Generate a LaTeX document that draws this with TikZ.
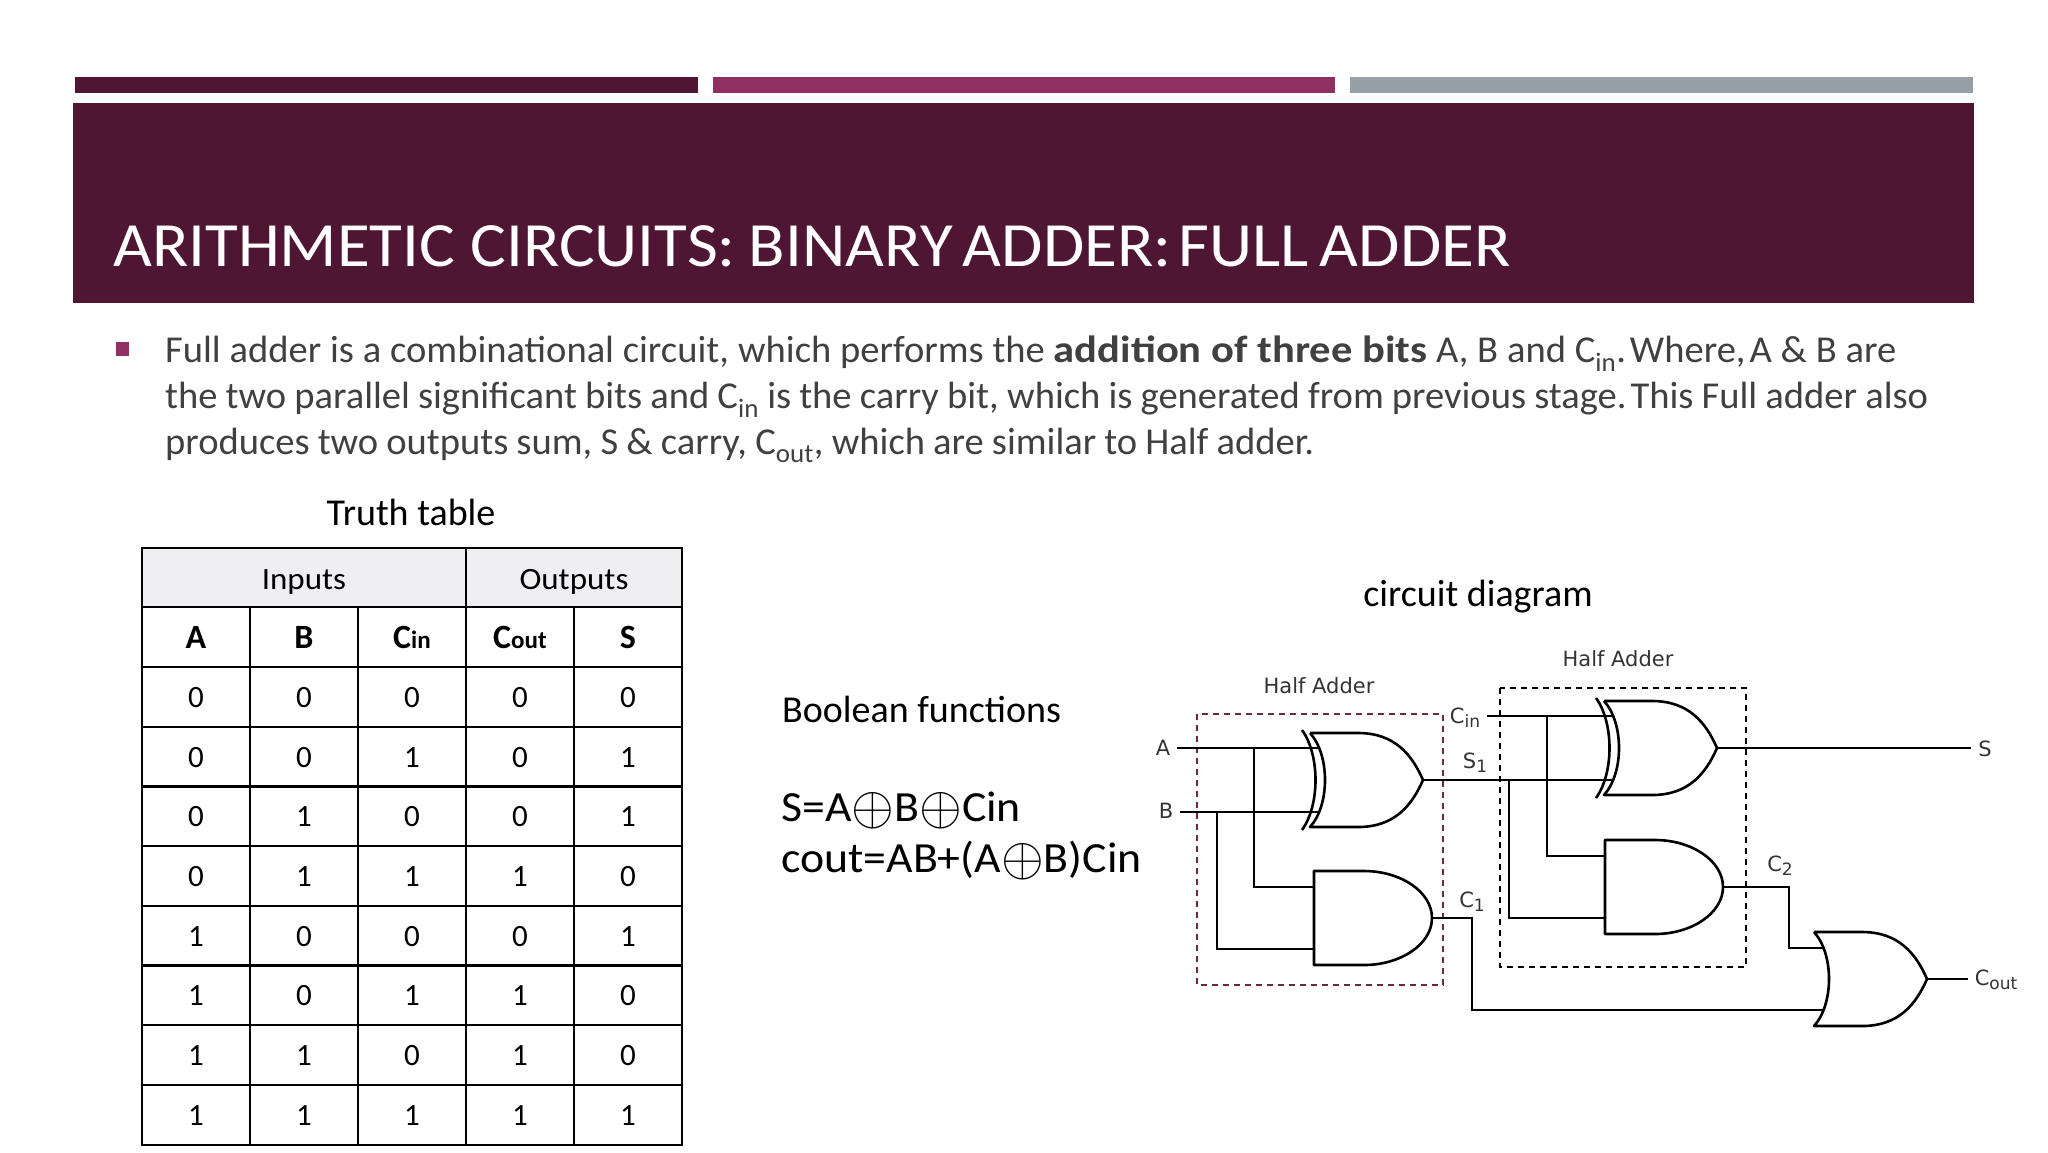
\documentclass[tikz,border=0pt]{standalone}
\usepackage{fontspec}
\setmainfont{Carlito}
\newfontfamily\dejavu{DejaVu Sans}
\newfontfamily\wide[FakeStretch=1.065]{Carlito}
\newfontfamily\slidetxt[FakeStretch=1.015,WordSpace=0.8,BoldFeatures={FakeStretch=1.12}]{Carlito}
\newcommand{\xorsign}{\raisebox{-3pt}{\scalebox{5.5}{\normalsize$\oplus$}}}
\newcommand{\lowpart}[1]{\raisebox{-4pt}{\fontsize{17}{20}\selectfont #1}}
\definecolor{wine}{HTML}{4F1633}
\definecolor{plum}{HTML}{8E3062}
\definecolor{slate}{HTML}{95A0A9}
\definecolor{bodygrey}{HTML}{404040}
\definecolor{headfill}{HTML}{EFEFF2}
\definecolor{boxred}{HTML}{6B2A3C}
\begin{document}
\begin{tikzpicture}[x=1pt,y=-1pt] % all coordinates are pixels of the slide
\tikzset{txt/.style={inner sep=0pt,anchor=base west}} % text sits on its baseline
\tikzset{bodytxt/.style={txt,text=bodygrey,font=\slidetxt\fontsize{38}{46}\selectfont}}
\tikzset{blacktxt/.style={txt,text=black,font=\fontsize{38}{46}\selectfont}}
\tikzset{eqtxt/.style={txt,text=black,font=\wide\fontsize{43}{50}\selectfont}}
\tikzset{cell/.style={draw=black,line width=2.2pt,inner sep=0pt,minimum width=108pt,minimum height=59.7pt,text height=21pt,text depth=0pt,font=\fontsize{31}{36}\selectfont}}
\tikzset{titlecell/.style={cell,fill=headfill,text height=23pt,font=\wide\fontsize{31}{36}\selectfont}}
\tikzset{headcell/.style={cell,text height=23pt,font=\fontsize{34}{36}\selectfont\bfseries}}
\tikzset{sig/.style={inner sep=7pt,text=black!80,font=\dejavu\fontsize{21}{24}\selectfont}}
\tikzset{wire/.style={line width=2.6pt}}
\tikzset{dashbox/.style={line width=2.2pt,dash pattern=on 6pt off 5pt}}
\tikzset{orbody/.pic={ % back curve, top, tip and bottom of an or gate
  \draw[wire,line join=round] (0,-47) -- (48,-47) .. controls (85,-47) and (102,-25) .. (113,0) .. controls (102,25) and (85,47) .. (48,47) -- (0,47) .. controls (20,25) and (20,-25) .. (0,-47);
  \coordinate (-in1) at (9,-31);
  \coordinate (-in2) at (9,31);
  \coordinate (-out) at (113,0);
}}
\tikzset{xorbody/.pic={
  \draw[wire,line join=round] (0,-47) -- (48,-47) .. controls (85,-47) and (102,-25) .. (113,0) .. controls (102,25) and (85,47) .. (48,47) -- (0,47) .. controls (20,25) and (20,-25) .. (0,-47);
  \draw[wire] (-8,-50) .. controls (10,-25) and (10,25) .. (-8,50);
  \coordinate (-in1) at (9,-32);
  \coordinate (-in2) at (9,32);
  \coordinate (-out) at (113,0);
}}
\tikzset{andbody/.pic={
  \draw[wire,line join=round] (0,-47) -- (50,-47) .. controls (87,-47) and (118,-26) .. (118,0) .. controls (118,26) and (87,47) .. (50,47) -- (0,47) -- cycle;
  \coordinate (-in1) at (0,-31);
  \coordinate (-in2) at (0,31);
  \coordinate (-out) at (118,0);
}}
\useasboundingbox (0,0) rectangle (2048,1152);
% slide head
\fill[wine] (75,76.5) rectangle (698,92.5);
\fill[plum] (713,76.5) rectangle (1335,92.5);
\fill[slate] (1350,76.5) rectangle (1973,92.5);
\fill[wine] (73,103) rectangle (1974,303);
\node[txt,text=white,font=\wide\fontsize{63}{70}\selectfont] (title) at (113,266) {ARITHMETIC CIRCUITS:\kern-2pt{} BINARY\kern-5pt{} ADDER:\kern-8pt{} FULL\kern-4pt{} ADDER};
% paragraph
\fill[plum] (116,342) rectangle (129,356);
\node[bodytxt] (line1) at (165,362) {\hbox to 1731pt{Full adder is a combinational circuit, which performs the \textbf{addition of three bits} A, B and C\textsubscript{in}.\kern4pt Where,\kern4pt A \& B are}};
\node[bodytxt] (line2) at (165,408) {\hbox to 1763pt{the two parallel significant bits and C\textsubscript{in} is the carry bit, which is generated from previous stage.\kern4pt This Full adder also}};
\node[bodytxt] (line3) at (165,454) {\hbox to 1149pt{produces two outputs sum, S \& carry, C\textsubscript{out}, which are similar to Half adder.}};
% truth table
\node[blacktxt,anchor=base] (tabletitle) at (411,525) {Truth table};
\node[titlecell,minimum width=324pt] (inputs) at (304,577.5) {Inputs};
\node[titlecell,minimum width=216pt] (outputs) at (574,577.5) {Outputs};
\node[headcell] (hA) at (196,637) {A};
\node[headcell] (hB) at (304,637) {B};
\node[headcell] (hCin) at (412,637) {C{\fontsize{25}{30}\selectfont in}};
\node[headcell] (hCout) at (520,637) {C{\fontsize{25}{30}\selectfont out}};
\node[headcell] (hS) at (628,637) {S};
\foreach \bits [count=\r] in {{0,0,0,0,0},{0,0,1,0,1},{0,1,0,0,1},{0,1,1,1,0},{1,0,0,0,1},{1,0,1,1,0},{1,1,0,1,0},{1,1,1,1,1}}
  \foreach \v [count=\c] in \bits
    \node[cell] (c\r-\c) at ({142+108*\c-54},{667+59.7*\r-29.85}) {\v};
% boolean functions
\node[blacktxt] (booltitle) at (782,722) {Boolean functions};
\node[eqtxt] (sumeq) at (781,821) {S=A\xorsign B\xorsign Cin};
\node[eqtxt] (carryeq) at (781,872) {cout=AB+(A\xorsign B)Cin};
\node[blacktxt,anchor=base] (circuittitle) at (1478,606) {circuit diagram};
% half adder boxes
\draw[dashbox,boxred] (1197,714) rectangle (1443,985);
\draw[dashbox] (1500,688) rectangle (1746,967);
\node[sig] (ha1) at (1319,686) {Half Adder};
\node[sig] (ha2) at (1618,659) {Half Adder};
% gates
\pic (xor1) at (1310,780) {xorbody};
\pic (and1) at (1314,918) {andbody};
\pic (xor2) at (1604,748) {xorbody};
\pic (and2) at (1605,887) {andbody};
\pic (or1) at (1814,979) {orbody};
% signals
\node[sig] (a) at (1163,748) {A};
\node[sig] (b) at (1166,811) {B};
\node[sig] (cin) at (1465,718) {C\lowpart{in}};
\node[sig] (s1) at (1475,763) {S\lowpart{1}};
\node[sig] (c1) at (1472,902) {C\lowpart{1}};
\node[sig] (c2) at (1780,866) {C\lowpart{2}};
\node[sig] (sum) at (1985,749) {S};
\node[sig] (cout) at (1996,980) {C\lowpart{out}};
\coordinate (ja) at (1254,748);
\coordinate (jb) at (1217,812);
\coordinate (jc) at (1547,716);
\coordinate (js) at (1509,780);
\coordinate (kc1) at (1472,918);
\coordinate (kc2) at (1789,887);
\draw[wire] (a.east |- xor1-in1) -- (xor1-in1);
\draw[wire] (b.east |- xor1-in2) -- (xor1-in2);
\draw[wire] (ja) |- (and1-in1);
\draw[wire] (jb) |- (and1-in2);
\draw[wire] (xor1-out) -- (xor2-in2);
\draw[wire] (cin.east |- xor2-in1) -- (xor2-in1);
\draw[wire] (jc) |- (and2-in1);
\draw[wire] (js) |- (and2-in2);
\draw[wire] (xor2-out) -- (sum.west |- xor2-out);
\draw[wire] (and1-out) -- (kc1) |- (or1-in2);
\draw[wire] (and2-out) -- (kc2) |- (or1-in1);
\draw[wire] (or1-out) -- (cout.west |- or1-out);
\end{tikzpicture}
\end{document}
